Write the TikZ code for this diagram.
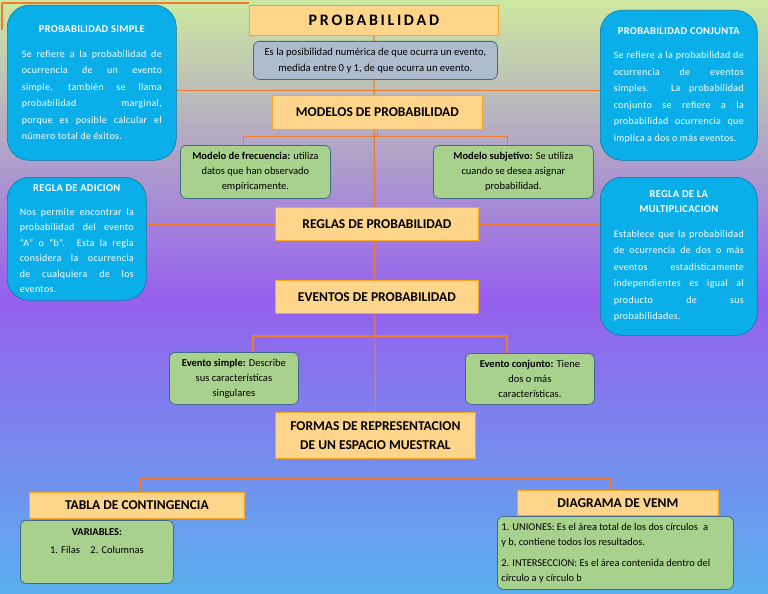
\documentclass[tikz,border=0pt]{standalone}
\usepackage{fontspec}
\setmainfont{Carlito}
\newfontfamily\blfont[LetterSpace=3]{Carlito}
\usetikzlibrary{calc}
\definecolor{orf}{HTML}{FFD58C}
\definecolor{ord}{HTML}{F5A623}
\definecolor{grf}{HTML}{A9D18E}
\definecolor{grd}{HTML}{3E6B8C}
\definecolor{blf}{HTML}{0AAFEA}
\definecolor{dff}{HTML}{AEBCD0}
\definecolor{ln}{HTML}{F07A2E}
\pgfdeclarelayer{bg}\pgfdeclarelayer{lines}\pgfsetlayers{bg,lines,main}
\tikzset{
 base/.style={anchor=north west, inner sep=0pt, align=center},
 orng/.style={base, fill=orf, draw=ord, line width=0.8pt, font=\bfseries\fontsize{13.5}{16}\selectfont},
 grn/.style={base, fill=grf, draw=grd, line width=0.8pt, rounded corners=6pt, font=\fontsize{10.5}{15}\selectfont},
 blu/.style={base, fill=blf, draw=blf!70!black, line width=0.6pt, rounded corners=22pt, text=white, font=\blfont\fontsize{10}{16.5}\selectfont},
 conn/.style={draw=ln, line width=1.2pt},
}
\newcommand{\bluetext}[4]{\parbox[t][#2][c]{#1}{\tolerance=10000{\centering\bfseries\fontsize{10.5}{15}\selectfont #3\par}\vspace{8pt}\noindent #4\par}}
\begin{document}
\begin{tikzpicture}[x=1pt,y=-1pt]
\begin{pgfonlayer}{bg}
\shade[top color={rgb,255:red,205;green,232;blue,160}, middle color={rgb,255:red,216;green,140;blue,216}, bottom color={rgb,255:red,150;green,96;blue,238}] (0,0) rectangle (768,297);
\shade[top color={rgb,255:red,150;green,96;blue,238}, middle color={rgb,255:red,116;green,110;blue,236}, bottom color={rgb,255:red,90;green,176;blue,238}] (0,296.5) rectangle (768,594);
\end{pgfonlayer}
\useasboundingbox (0,0) rectangle (768,594);

\node[orng, minimum width=249pt, minimum height=30pt, font=\bfseries\fontsize{16}{18}\selectfont] (title) at (249,5) {P\,R\,O\,B\,A\,B\,I\,L\,I\,D\,A\,D};
\node[base, fill=dff, draw=grd, line width=0.8pt, rounded corners=6pt, minimum width=244pt, minimum height=38pt, font=\fontsize{10.6}{16}\selectfont] (def) at (253,41) {Es la posibilidad numérica de que ocurra un evento,\\medida entre 0 y 1, de que ocurra un evento.};
\node[orng, minimum width=210pt, minimum height=34pt] (mod) at (272,95) {MODELOS DE PROBABILIDAD};
\node[grn, minimum width=150pt, minimum height=53pt] (freq) at (180,145) {\textbf{Modelo de frecuencia:} utiliza\\datos que han observado\\empíricamente.};
\node[grn, minimum width=160pt, minimum height=53pt] (subj) at (433,145) {\textbf{Modelo subjetivo:} Se utiliza\\cuando se desea asignar\\probabilidad.};
\node[orng, minimum width=203pt, minimum height=33pt] (reg) at (275,207) {REGLAS DE PROBABILIDAD};
\node[orng, minimum width=203pt, minimum height=33pt] (evt) at (275,280) {EVENTOS DE PROBABILIDAD};
\node[grn, minimum width=129pt, minimum height=52pt] (es) at (169,352) {\textbf{Evento simple:} Describe\\sus características\\singulares};
\node[grn, minimum width=129pt, minimum height=51pt] (ec) at (465,353) {\textbf{Evento conjunto:} Tiene\\dos o más\\características.};
\node[orng, minimum width=200pt, minimum height=46pt, font=\bfseries\fontsize{13.5}{19}\selectfont] (form) at (275,412) {FORMAS DE REPRESENTACION\\DE UN ESPACIO MUESTRAL};
\node[orng, minimum width=215pt, minimum height=26pt] (tab) at (29,492) {TABLA DE CONTINGENCIA};
\node[grn, minimum width=153pt, minimum height=63pt] (var) at (20,520) {\parbox[t][55pt][t]{150pt}{\centering\vspace{4pt}\textbf{VARIABLES:}\\[3pt]1. Filas\quad 2. Columnas}};
\node[orng, minimum width=201pt, minimum height=25pt] (ven) at (517,490) {DIAGRAMA DE VENM};
\node[grn, minimum width=236pt, minimum height=73pt, align=left, font=\fontsize{10.4}{15}\selectfont] (vtx) at (497,516) {\parbox{228pt}{1. UNIONES: Es el área total de los dos círculos\; a\\y b, contiene todos los resultados.\\[6pt]2. INTERSECCION: Es el área contenida dentro del\\círculo a y círculo b}};

\node[blu, minimum width=169pt, minimum height=155pt] (ps) at (7,5) {\bluetext{140pt}{145pt}{PROBABILIDAD SIMPLE}{Se refiere a la probabilidad de\linebreak ocurrencia de un evento\linebreak simple, también se llama\linebreak probabilidad marginal,\linebreak porque es posible calcular el\linebreak número total de éxitos.}};
\node[blu, minimum width=139pt, minimum height=123pt, font=\blfont\fontsize{10}{15.5}\selectfont] (ad) at (7,177) {\bluetext{114pt}{121pt}{REGLA DE ADICION}{Nos permite encontrar la\linebreak probabilidad del evento\linebreak “A” o “b”. Esta la regla\linebreak considera la ocurrencia\linebreak de cualquiera de los\linebreak eventos.}};
\node[blu, minimum width=157pt, minimum height=150pt] (pc) at (600,10) {\bluetext{130pt}{140pt}{PROBABILIDAD CONJUNTA}{Se refiere a la probabilidad de\linebreak ocurrencia de eventos\linebreak simples. La probabilidad\linebreak conjunto se refiere a la\linebreak probabilidad ocurrencia que\linebreak implica a dos o más eventos.}};
\node[blu, minimum width=157pt, minimum height=158pt] (mul) at (600,177) {\bluetext{130pt}{150pt}{REGLA DE LA\\MULTIPLICACION}{Establece que la probabilidad\linebreak de ocurrencia de dos o más\linebreak eventos estadísticamente\linebreak independientes es igual al\linebreak producto de sus\linebreak probabilidades.}};

\begin{pgfonlayer}{lines}
\draw[conn] (title.south) -- (form.north);
\draw[conn] ([yshift=-8pt]ps.east) -- ([yshift=-8pt]ps.east -| pc.west);
\draw[conn] (ad.east |- reg.center) -- (mul.west |- reg.center);
\draw[conn] (mod.south) -- ++(0,7) -| ([xshift=-12pt]freq.north);
\draw[conn] (mod.south) ++(0,7) -| ([xshift=-6pt]subj.north);
\draw[conn] ([xshift=19pt]es.north) -- ++(0,-16) -| ([xshift=-23pt]ec.north);
\draw[conn] (form.south) -- ++(0,20) -| ([xshift=4pt]tab.north);
\draw[conn] (form.south) ++(0,20) -| ([xshift=-8pt]ven.north);
\draw[conn] (2,3) -- (title.west |- 0,3);
\draw[conn] (2,3) -- (2,30);
\end{pgfonlayer}
\end{tikzpicture}
\end{document}
